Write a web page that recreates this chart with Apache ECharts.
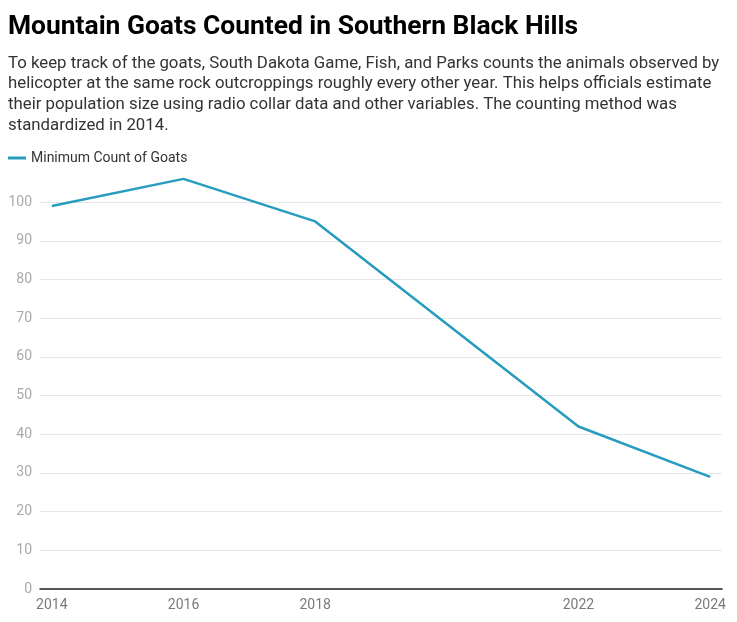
<!DOCTYPE html>
<html>
<head>
<meta charset="utf-8">
<script src="https://cdn.jsdelivr.net/npm/echarts@6/dist/echarts.min.js"></script>
<style>
  html, body { margin: 0; padding: 0; background: #fff; }
  #chart { width: 737px; height: 622px; }
</style>
</head>
<body>
<div id="chart"></div>
<script>
// survey years and minimum counts (no survey in 2020)
const years = [2014, 2016, 2018, 2022, 2024];
const goatCounts = [99, 106, 95, 42, 29];
const yTicks = [0, 10, 20, 30, 40, 50, 60, 70, 80, 90, 100];

const FONT = 'Roboto, "Noto Sans", sans-serif';
const LINE_COLOR = '#279cbf';

const chart = echarts.init(document.getElementById('chart'));

const option = {
    textStyle: { fontFamily: FONT },
    title: {
        text: 'Mountain Goats Counted in Southern Black Hills',
        subtext: 'To keep track of the goats, South Dakota Game, Fish, and Parks counts the animals observed by\n' +
            'helicopter at the same rock outcroppings roughly every other year. This helps officials estimate\n' +
            'their population size using radio collar data and other variables. The counting method was\n' +
            'standardized in 2014.',
        left: 8,
        top: 14,
        padding: 0,
        itemGap: 13,
        textStyle: { fontFamily: FONT, fontSize: 26.4, fontWeight: 'bold', color: '#000' },
        subtextStyle: { fontFamily: FONT, fontSize: 16.8, lineHeight: 20.7, color: '#333' }
    },
    legend: {
        left: 8,
        top: 151,
        padding: 0,
        icon: 'rect',
        itemWidth: 18,
        itemHeight: 3,
        itemGap: 4,
        textStyle: { fontFamily: FONT, fontSize: 14, color: '#333' },
        data: ['Minimum Count of Goats']
    },
    grid: {
        left: 40,
        right: 15,
        top: 175,
        bottom: 33,
        containLabel: false
    },
    xAxis: {
        type: 'value',
        min: 2013.82,
        max: 2024.18,
        axisLine: { show: true, lineStyle: { color: '#222', width: 1.5 } },
        axisTick: { show: false },
        splitLine: { show: false },
        axisLabel: {
            customValues: years,
            formatter: v => String(v),
            margin: 9,
            fontSize: 14,
            color: '#7a7a7a',
            fontFamily: FONT
        }
    },
    yAxis: {
        type: 'value',
        min: 0,
        max: 107,
        interval: 10,
        axisLine: { show: false },
        axisTick: { show: false },
        splitLine: { showMaxLine: false, lineStyle: { color: '#e6e6e6', width: 1 } },
        axisLabel: {
            margin: 8,
            fontSize: 14,
            color: '#aaa',
            fontFamily: FONT,
            formatter: v => (yTicks.indexOf(v) >= 0 ? String(v) : '')
        }
    },
    series: [{
        name: 'Minimum Count of Goats',
        type: 'line',
        data: years.map((y, i) => [y, goatCounts[i]]),
        showSymbol: false,
        lineStyle: { color: LINE_COLOR, width: 2.5 },
        itemStyle: { color: LINE_COLOR }
    }]
};

chart.setOption(option);
</script>
</body>
</html>
